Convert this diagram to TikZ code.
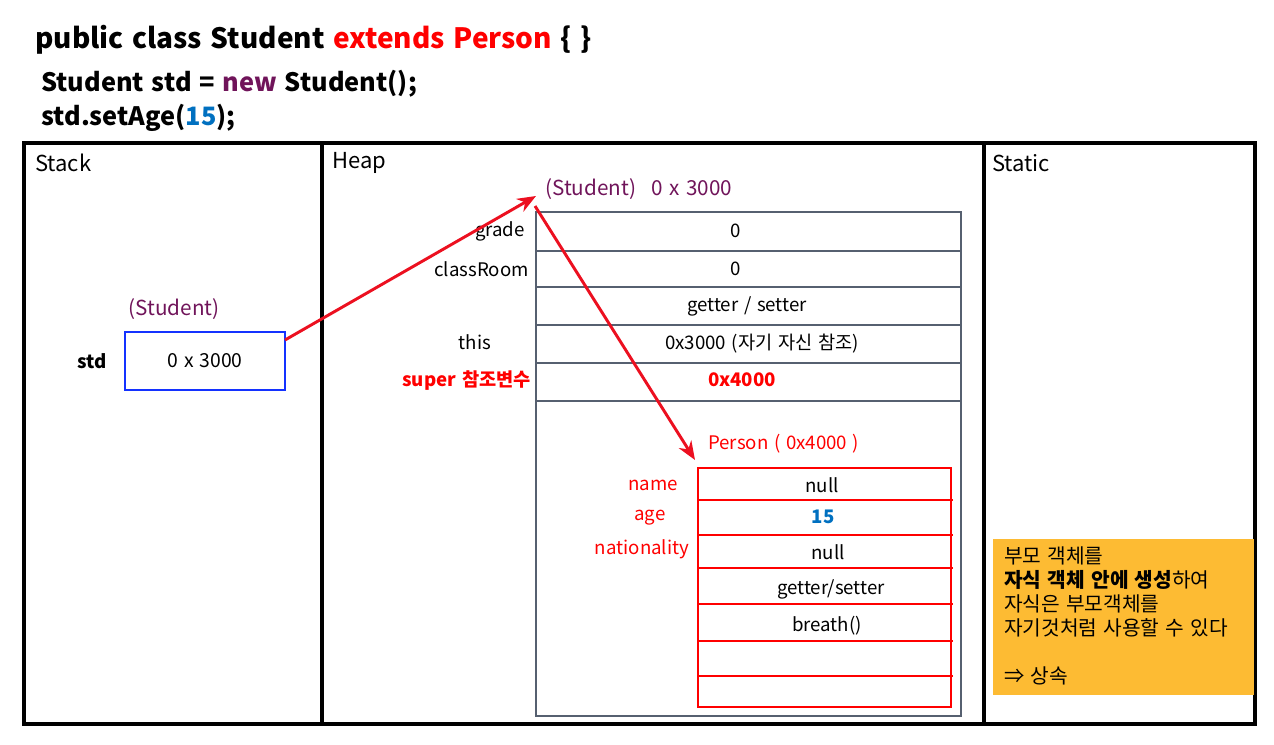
\documentclass[tikz,border=0pt]{standalone}
\usepackage{fontspec}
\setmainfont{Noto Sans CJK KR}[WordSpace=1.35]
\usetikzlibrary{arrows.meta}
\definecolor{objpurple}{RGB}{112,20,90}
\definecolor{kwred}{RGB}{255,0,0}
\definecolor{arrred}{RGB}{236,16,32}
\definecolor{numblue}{RGB}{0,112,192}
\definecolor{boxblue}{RGB}{20,50,255}
\definecolor{slate}{RGB}{86,96,112}
\definecolor{notebg}{RGB}{253,187,51}
\tikzset{
  txt/.style={inner sep=0pt, font=\fontsize{14pt}{16pt}\selectfont},
  btxt/.style={inner sep=0pt, font=\fontsize{14pt}{16pt}\selectfont\bfseries},
  hdr/.style={inner sep=0pt, anchor=west, font=\fontsize{16.5pt}{19pt}\selectfont},
  code/.style={inner sep=0pt, anchor=west, font=\fontsize{19pt}{22pt}\selectfont\bfseries},
  region/.style={draw=black, line width=2.6pt},
  sline/.style={draw=slate, line width=0.8pt},
  rline/.style={draw=kwred, line width=1.4pt},
  refarrow/.style={draw=arrred, line width=2.2pt, -{Stealth[length=14pt,width=11pt]}},
}
\begin{document}
\begin{tikzpicture}[x=0.75pt,y=-0.75pt]
\useasboundingbox (0,0) rectangle (1274,745);
% code header
\node[code, font=\fontsize{21pt}{24pt}\selectfont\bfseries] (title) at (35,40) {public class Student \textcolor{kwred}{extends Person} \{ \}};
\node[code] (line1) at (41,84) {Student std = \textcolor{objpurple}{new} Student();};
\node[code] (line2) at (41,118) {std.setAge(\textcolor{numblue}{15});};
% regions
\draw[region] (24,143) rectangle (1255,724);
\draw[region] (322,143) -- (322,724);
\draw[region] (984,143) -- (984,724);
\node[hdr] (stackh) at (35,163) {Stack};
\node[hdr] (heaph) at (332,163) {Heap};
\node[hdr] (statich) at (992,163) {Static};
% stack
\node[txt, text=objpurple, font=\fontsize{15.5pt}{17pt}\selectfont] (stype) at (174,309) {(Student)};
\node[draw=boxblue, line width=1.4pt, minimum width=120pt, minimum height=43.5pt, txt, font=\fontsize{14.5pt}{16pt}\selectfont] (std) at (205,361) {0 x 3000};
\node[btxt] (stdlbl) at (92,361) {std};
% heap object Student
\node[txt, text=objpurple, anchor=west, font=\fontsize{15.5pt}{17pt}\selectfont] (htitle) at (545,189) {(Student)\hspace{12pt}0 x 3000};
\draw[slate, line width=1.6pt] (536,212) rectangle (961,716);
\foreach \yy in {251,287,325,363,401} {\draw[sline] (536,\yy) -- (961,\yy);}
\node[txt] (v1) at (736,231) {0};
\node[txt] (v2) at (736,269) {0};
\node[txt] (v3) at (747,306) {getter / setter};
\node[txt] (v4) at (762,344) {0x3000 (자기 자신 참조)};
\node[btxt, text=kwred] (v5) at (742,380) {0x4000};
\node[txt, anchor=east] (l1) at (525,231) {grade};
\node[txt, anchor=east] (l2) at (529,269) {classRoom};
\node[txt] (l3) at (475,342) {this};
\node[btxt, anchor=east, text=kwred] (l5) at (531,381) {super 참조변수};
% Person object
\node[txt, text=kwred, anchor=west] (ptitle) at (708,444) {Person ( 0x4000 )};
\draw[rline] (698,468) rectangle (951,707);
\foreach \yy in {500,535,568,604,641,676} {\draw[rline] (698,\yy) -- (953,\yy);}
\node[txt] (p1) at (822,485) {null};
\node[btxt, text=numblue] (p2) at (823,517) {15};
\node[txt] (p3) at (828,552) {null};
\node[txt] (p4) at (831,589) {getter/setter};
\node[txt] (p5) at (827,626) {breath()};
\node[txt, text=kwred] (pl1) at (653,485) {name};
\node[txt, text=kwred] (pl2) at (650,518) {age};
\node[txt, text=kwred] (pl3) at (642,549) {nationality};
% note
\fill[notebg] (993,539) rectangle (1254,695);
\node[txt, anchor=north west, align=left, font=\fontsize{15.2pt}{18pt}\selectfont] (note) at (1004,546)
 {부모 객체를\\\textbf{자식 객체 안에 생성}하여\\자식은 부모객체를\\자기것처럼 사용할 수 있다\\[18pt]⇒ 상속};
% arrows
\coordinate (a1s) at (285,340);
\coordinate (a1e) at (536,196);
\coordinate (a2s) at (535,206);
\coordinate (a2e) at (695,460);
\draw[refarrow] (a1s) -- (a1e);
\draw[refarrow] (a2s) -- (a2e);
\end{tikzpicture}
\end{document}
